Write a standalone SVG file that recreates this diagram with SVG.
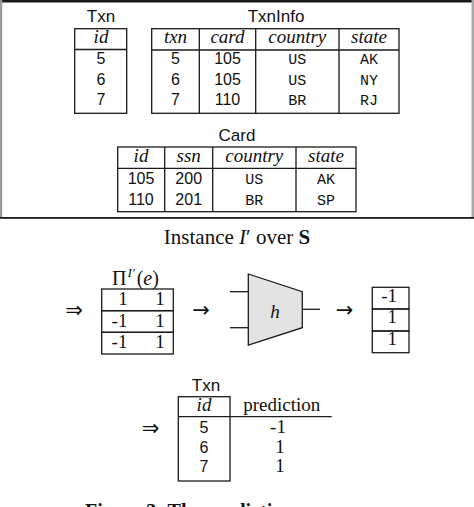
<svg xmlns="http://www.w3.org/2000/svg" width="474" height="507" viewBox="0 0 474 507">
<style>
.ln{stroke:#1a1a1a;stroke-width:1.3;fill:none}
.sans{font-family:"Liberation Sans",Arial,sans-serif;font-size:16px;fill:#111;text-anchor:middle}
.title{font-family:"Liberation Sans",Arial,sans-serif;font-size:17px;fill:#111;text-anchor:middle}
.mono{font-family:"Liberation Mono","Courier New",monospace;font-size:15px;fill:#111;text-anchor:middle}
.hd{font-family:"Liberation Serif","Times New Roman",serif;font-style:italic;font-size:19px;fill:#111;text-anchor:middle}
.ser{font-family:"Liberation Serif","Times New Roman",serif;font-size:19px;fill:#111;text-anchor:middle}
.ar{font-family:"DejaVu Sans","Liberation Serif",sans-serif;font-size:21px;fill:#111;text-anchor:middle}
</style>
<g id="frame">
<rect x="0" y="0" width="474" height="2.5" fill="#1a1a1a"/>
<rect x="0" y="0" width="2.2" height="218" fill="#999"/>
<rect x="471.5" y="0" width="2.5" height="218" fill="#aaa"/>
<rect x="0" y="217" width="474" height="1.8" fill="#1a1a1a"/>
</g>
<g id="txn-table">
<text class="title" x="101" y="22">Txn</text>
<rect class="ln" x="74.7" y="28.7" width="52" height="84.6"/>
<line class="ln" x1="74.7" y1="49.5" x2="126.7" y2="49.5"/>
<text class="hd" x="101" y="43">id</text>
<text class="sans" x="101" y="64">5</text>
<text class="sans" x="101" y="85">6</text>
<text class="sans" x="101" y="105">7</text>
</g>
<g id="txninfo-table">
<text class="title" x="276" y="22">TxnInfo</text>
<rect class="ln" x="151.7" y="28.7" width="247.3" height="84.6"/>
<line class="ln" x1="151.7" y1="50" x2="399" y2="50"/>
<line class="ln" x1="199.3" y1="28.7" x2="199.3" y2="113.3"/>
<line class="ln" x1="255.7" y1="28.7" x2="255.7" y2="113.3"/>
<line class="ln" x1="339" y1="28.7" x2="339" y2="113.3"/>
<text class="hd" x="175.5" y="43">txn</text>
<text class="hd" x="227.5" y="43">card</text>
<text class="hd" x="297.3" y="43">country</text>
<text class="hd" x="369" y="43">state</text>
<text class="sans" x="175.5" y="64">5</text>
<text class="sans" x="227.5" y="64">105</text>
<text class="mono" x="297.3" y="64">US</text>
<text class="mono" x="369" y="64">AK</text>
<text class="sans" x="175.5" y="85">6</text>
<text class="sans" x="227.5" y="85">105</text>
<text class="mono" x="297.3" y="85">US</text>
<text class="mono" x="369" y="85">NY</text>
<text class="sans" x="175.5" y="105">7</text>
<text class="sans" x="227.5" y="105">110</text>
<text class="mono" x="297.3" y="105">BR</text>
<text class="mono" x="369" y="105">RJ</text>
</g>
<g id="card-table">
<text class="title" x="237" y="141">Card</text>
<rect class="ln" x="117.7" y="147" width="238.3" height="64.7"/>
<line class="ln" x1="117.7" y1="168.3" x2="356" y2="168.3"/>
<line class="ln" x1="164.7" y1="147" x2="164.7" y2="211.7"/>
<line class="ln" x1="212.7" y1="147" x2="212.7" y2="211.7"/>
<line class="ln" x1="296" y1="147" x2="296" y2="211.7"/>
<text class="hd" x="141" y="161.7">id</text>
<text class="hd" x="188.7" y="161.7">ssn</text>
<text class="hd" x="254.3" y="161.7">country</text>
<text class="hd" x="326" y="161.7">state</text>
<text class="sans" x="141" y="184.3">105</text>
<text class="sans" x="188.7" y="184.3">200</text>
<text class="mono" x="254.3" y="184.3">US</text>
<text class="mono" x="326" y="184.3">AK</text>
<text class="sans" x="141" y="205">110</text>
<text class="sans" x="188.7" y="205">201</text>
<text class="mono" x="254.3" y="205">BR</text>
<text class="mono" x="326" y="205">SP</text>
</g>
<g id="instance-label">
<text class="ser" x="237" y="244.3" style="font-size:21px">Instance <tspan font-style="italic">I</tspan>′ over <tspan font-weight="bold">S</tspan></text>
</g>
<g id="features">
<text class="ser" x="112" y="285" style="font-size:20px;text-anchor:start">Π<tspan style="font-size:13px;font-style:italic" dx="1" dy="-8">I</tspan><tspan style="font-size:13px" dx="1">′</tspan><tspan dx="1" dy="8">(</tspan><tspan font-style="italic">e</tspan>)</text>
<rect class="ln" x="101.7" y="289" width="71.6" height="21.7" stroke-width="1.7"/>
<rect class="ln" x="101.7" y="310.7" width="71.6" height="21.6" stroke-width="1.7"/>
<rect class="ln" x="101.7" y="332.3" width="71.6" height="21.7" stroke-width="1.7"/>
<text class="ser" x="123" y="305">1</text>
<text class="ser" x="160" y="305">1</text>
<text class="ser" x="119.5" y="326.7">-1</text>
<text class="ser" x="160" y="326.7">1</text>
<text class="ser" x="119.5" y="348.3">-1</text>
<text class="ser" x="160" y="348.3">1</text>
</g>
<g id="model-h">
<polygon points="248.3,274 302.3,291.7 302.3,327.7 248.3,345" fill="#e3e3e3" stroke="#1a1a1a" stroke-width="1.3"/>
<text class="hd" x="275" y="318.3">h</text>
</g>
<g id="output">
<rect class="ln" x="372.3" y="287.3" width="36.7" height="21.7" stroke-width="1.7"/>
<rect class="ln" x="372.3" y="309" width="36.7" height="22" stroke-width="1.7"/>
<rect class="ln" x="372.3" y="331" width="36.7" height="21.7" stroke-width="1.7"/>
<text class="ser" x="397" y="301.7" style="text-anchor:end">-1</text>
<text class="ser" x="397" y="323.3" style="text-anchor:end">1</text>
<text class="ser" x="397" y="345" style="text-anchor:end">1</text>
</g>
<g id="result-table">
<text class="title" x="206" y="391">Txn</text>
<rect class="ln" x="178.3" y="396.7" width="51.7" height="84.3"/>
<line class="ln" x1="178.3" y1="416.7" x2="331.7" y2="416.7"/>
<text class="hd" x="204" y="410.7">id</text>
<text class="ser" x="281.7" y="410.7">prediction</text>
<text class="sans" x="204" y="433.3">5</text>
<text class="sans" x="204" y="452.7">6</text>
<text class="sans" x="204" y="471.7">7</text>
<text class="ser" x="278" y="433.3">-1</text>
<text class="ser" x="280" y="452.7">1</text>
<text class="ser" x="280" y="471.7">1</text>
</g>
<g id="connectors">
<line class="ln" x1="230" y1="291.7" x2="248.3" y2="291.7"/>
<line class="ln" x1="230" y1="327.7" x2="248.3" y2="327.7"/>
<line class="ln" x1="302.3" y1="309.3" x2="320" y2="309.3"/>
<text class="ar" x="74" y="317">⇒</text>
<text class="ar" x="201" y="317">→</text>
<text class="ar" x="344.5" y="317">→</text>
<text class="ar" x="150.5" y="434.5">⇒</text>
</g>
<g id="caption">
<text x="85" y="518" font-family="'Liberation Serif','Times New Roman',serif" font-weight="bold" font-size="20" fill="#111">Figure 3: The predictions</text>
</g>
</svg>
